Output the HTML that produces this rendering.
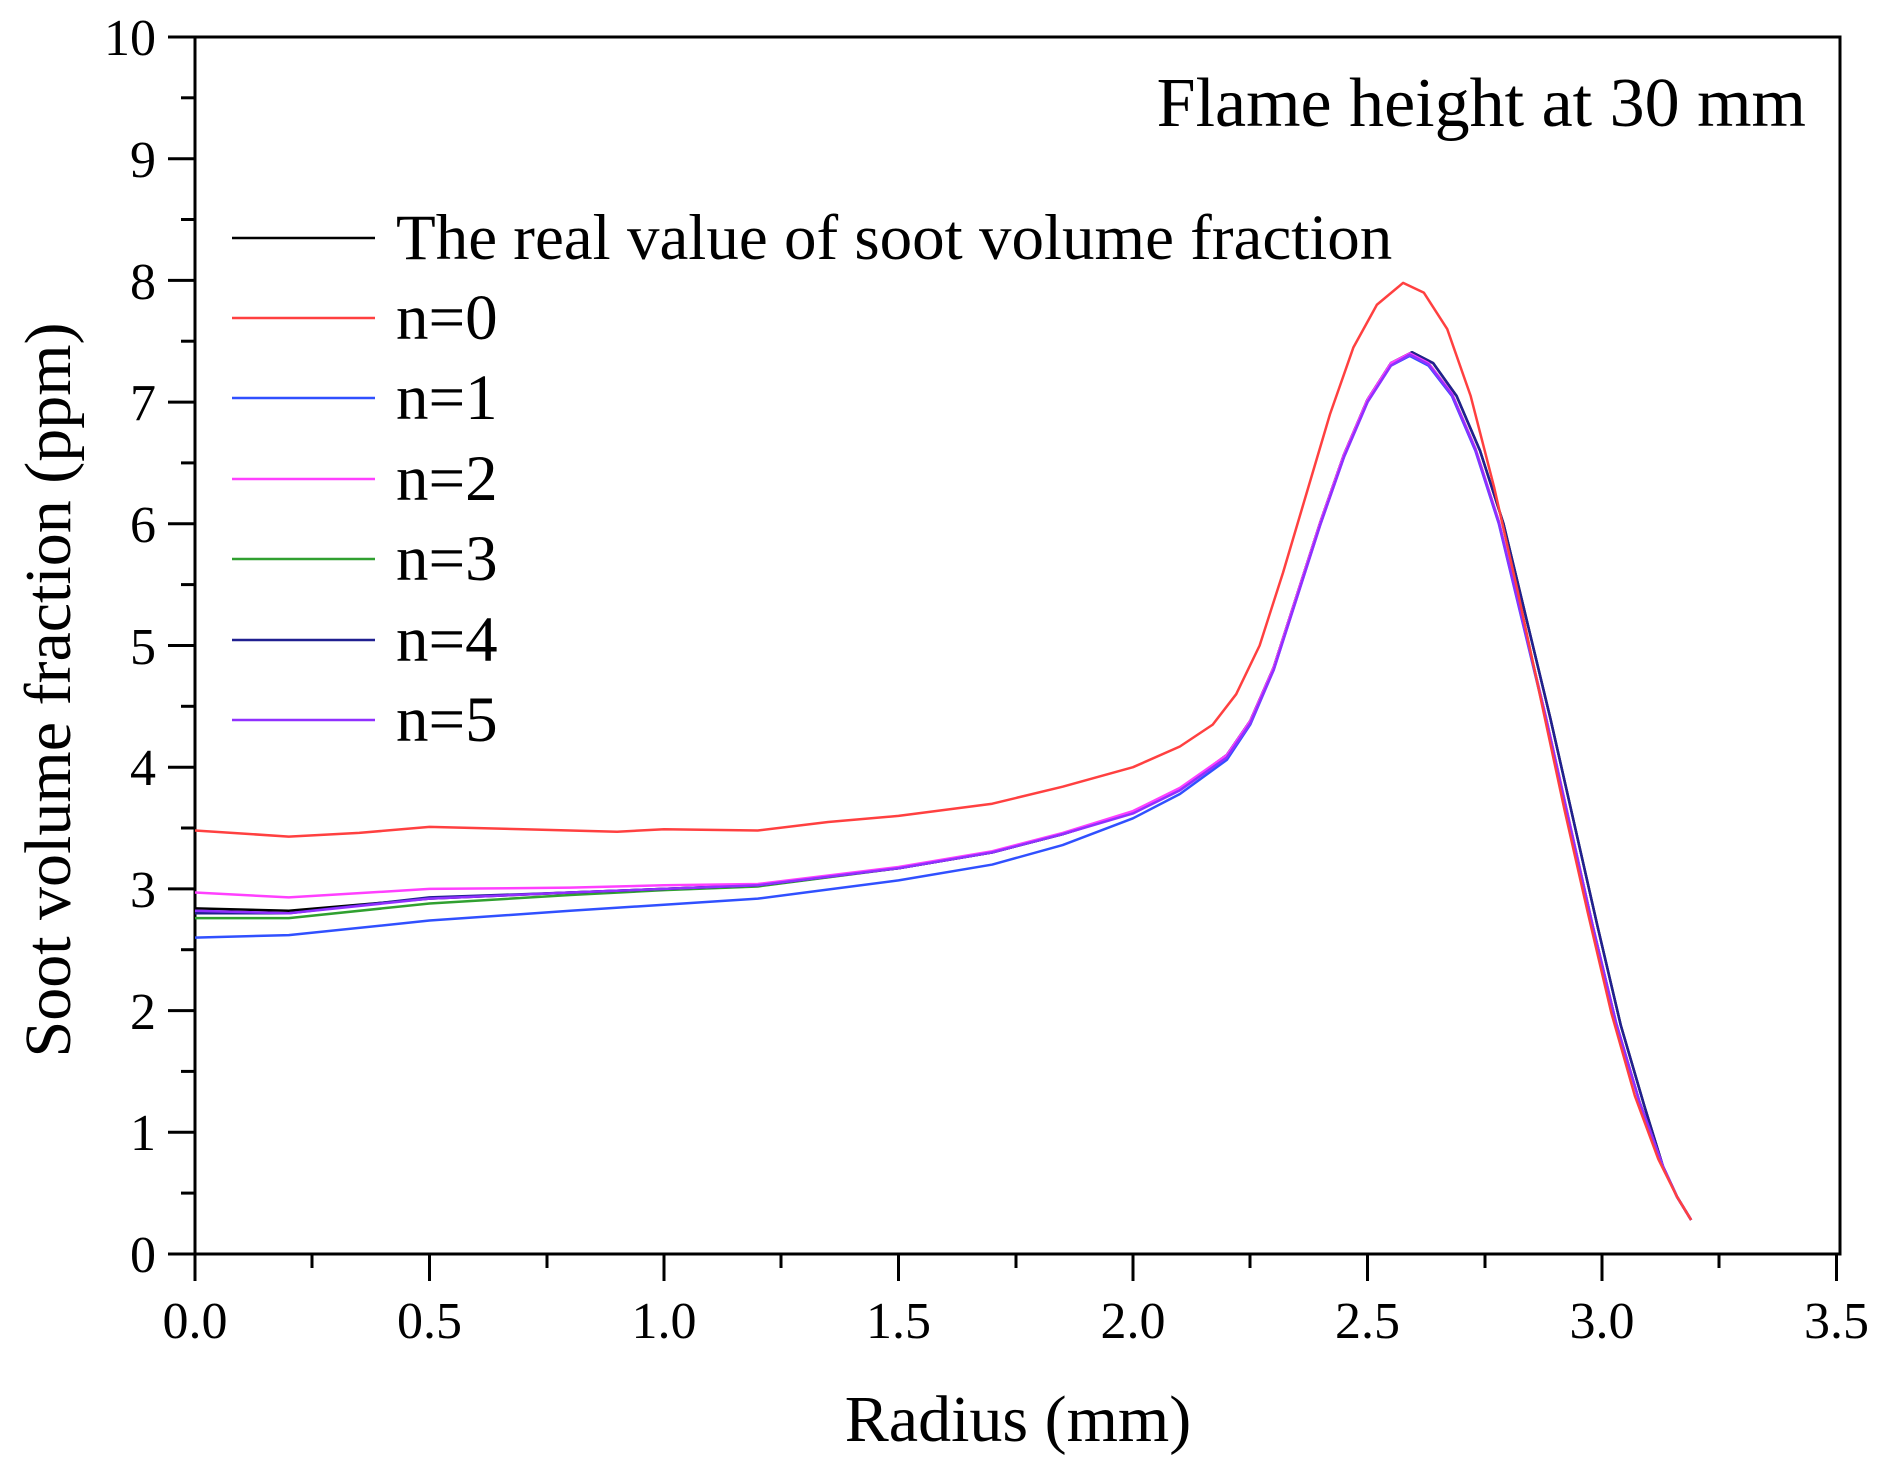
<!DOCTYPE html>
<html><head><meta charset="utf-8"><style>
html,body{margin:0;padding:0;background:#fff;}
svg{display:block;}
text{font-family:"Liberation Serif",serif;fill:#000;}
</style></head><body>
<svg width="1883" height="1467" viewBox="0 0 1883 1467" xmlns="http://www.w3.org/2000/svg">
<rect width="1883" height="1467" fill="#fff"/>
<rect x="195" y="37" width="1645" height="1217" fill="none" stroke="#000" stroke-width="3"/>
<g stroke="#000" stroke-width="3">
<line x1="195" y1="1254" x2="195" y2="1281"/><line x1="429.5" y1="1254" x2="429.5" y2="1281"/>
<line x1="664" y1="1254" x2="664" y2="1281"/><line x1="898.5" y1="1254" x2="898.5" y2="1281"/>
<line x1="1133" y1="1254" x2="1133" y2="1281"/><line x1="1367.5" y1="1254" x2="1367.5" y2="1281"/>
<line x1="1602" y1="1254" x2="1602" y2="1281"/><line x1="1836.5" y1="1254" x2="1836.5" y2="1281"/>
<line x1="312" y1="1254" x2="312" y2="1268"/><line x1="547" y1="1254" x2="547" y2="1268"/>
<line x1="781" y1="1254" x2="781" y2="1268"/><line x1="1016" y1="1254" x2="1016" y2="1268"/>
<line x1="1250" y1="1254" x2="1250" y2="1268"/><line x1="1485" y1="1254" x2="1485" y2="1268"/>
<line x1="1719" y1="1254" x2="1719" y2="1268"/>
</g>
<g stroke="#000" stroke-width="3">
<line x1="168" y1="1254" x2="195" y2="1254"/><line x1="168" y1="1132.3" x2="195" y2="1132.3"/>
<line x1="168" y1="1010.6" x2="195" y2="1010.6"/><line x1="168" y1="888.9" x2="195" y2="888.9"/>
<line x1="168" y1="767.2" x2="195" y2="767.2"/><line x1="168" y1="645.5" x2="195" y2="645.5"/>
<line x1="168" y1="523.8" x2="195" y2="523.8"/><line x1="168" y1="402.1" x2="195" y2="402.1"/>
<line x1="168" y1="280.4" x2="195" y2="280.4"/><line x1="168" y1="158.7" x2="195" y2="158.7"/>
<line x1="168" y1="37" x2="195" y2="37"/>
<line x1="181" y1="1193.1" x2="195" y2="1193.1"/><line x1="181" y1="1071.4" x2="195" y2="1071.4"/>
<line x1="181" y1="949.7" x2="195" y2="949.7"/><line x1="181" y1="828" x2="195" y2="828"/>
<line x1="181" y1="706.3" x2="195" y2="706.3"/><line x1="181" y1="584.6" x2="195" y2="584.6"/>
<line x1="181" y1="462.9" x2="195" y2="462.9"/><line x1="181" y1="341.2" x2="195" y2="341.2"/>
<line x1="181" y1="219.5" x2="195" y2="219.5"/><line x1="181" y1="97.8" x2="195" y2="97.8"/>
</g>
<g font-size="52" text-anchor="end">
<text x="156" y="1272">0</text><text x="156" y="1150">1</text><text x="156" y="1029">2</text>
<text x="156" y="907">3</text><text x="156" y="785">4</text><text x="156" y="664">5</text>
<text x="156" y="542">6</text><text x="156" y="420">7</text><text x="156" y="299">8</text>
<text x="156" y="177">9</text><text x="156" y="55">10</text>
</g>
<g font-size="52" text-anchor="middle">
<text x="195" y="1338">0.0</text><text x="429.5" y="1338">0.5</text><text x="664" y="1338">1.0</text>
<text x="898.5" y="1338">1.5</text><text x="1133" y="1338">2.0</text><text x="1367.5" y="1338">2.5</text>
<text x="1602" y="1338">3.0</text><text x="1836.5" y="1338">3.5</text>
</g>
<text x="1018" y="1441" font-size="66" text-anchor="middle">Radius (mm)</text>
<text transform="translate(70,690) rotate(-90)" font-size="66" text-anchor="middle">Soot volume fraction (ppm)</text>
<text x="1806" y="126" font-size="70" text-anchor="end">Flame height at 30 mm</text>
<g stroke-width="2.5">
<line x1="232" y1="238" x2="375" y2="238" stroke="#000"/>
<line x1="232" y1="318" x2="375" y2="318" stroke="#ff4040"/>
<line x1="232" y1="398" x2="375" y2="398" stroke="#3050ff"/>
<line x1="232" y1="479" x2="375" y2="479" stroke="#ff40ff"/>
<line x1="232" y1="559" x2="375" y2="559" stroke="#30a030"/>
<line x1="232" y1="640" x2="375" y2="640" stroke="#202090"/>
<line x1="232" y1="720" x2="375" y2="720" stroke="#9030ff"/>
</g>
<g font-size="65">
<text x="396" y="259">The real value of soot volume fraction</text>
<text x="396" y="339">n=0</text><text x="396" y="419">n=1</text><text x="396" y="500">n=2</text>
<text x="396" y="580">n=3</text><text x="396" y="661">n=4</text><text x="396" y="741">n=5</text>
</g>
<g transform="translate(195,1254) scale(469,-121.7)" fill="none" stroke-width="2.5" stroke-linejoin="round">
<polyline vector-effect="non-scaling-stroke" stroke="#3050ff" points="0,2.6 0.2,2.62 0.5,2.74 0.8,2.82 1.0,2.87 1.2,2.92 1.5,3.07 1.7,3.2 1.85,3.36 2.0,3.58 2.1,3.78 2.2,4.06 2.25,4.35 2.3,4.8 2.35,5.4 2.4,6.0 2.45,6.55 2.5,7.0 2.55,7.3 2.59,7.38 2.63,7.3 2.68,7.05 2.73,6.6 2.78,6.0 2.83,5.2 2.88,4.4 2.93,3.55 2.98,2.7 3.03,1.9 3.08,1.25 3.13,0.72 3.16,0.47 3.19,0.28"/>
<polyline vector-effect="non-scaling-stroke" stroke="#30a030" points="0,2.76 0.2,2.76 0.5,2.88 0.8,2.95 1.0,2.99 1.2,3.02 1.5,3.17 1.7,3.3 1.85,3.45 2.0,3.63 2.1,3.82 2.2,4.1 2.25,4.38 2.3,4.82 2.35,5.42 2.4,6.02 2.45,6.57 2.5,7.02 2.55,7.32 2.59,7.4 2.63,7.32 2.68,7.07 2.73,6.62 2.78,6.02 2.83,5.22 2.88,4.42 2.93,3.56 2.98,2.7 3.03,1.9 3.08,1.25 3.13,0.72 3.16,0.47 3.19,0.28"/>
<polyline vector-effect="non-scaling-stroke" stroke="#000" points="0,2.84 0.2,2.82 0.5,2.92 0.8,2.97 1.0,3.0 1.2,3.03 1.5,3.17 1.7,3.3 1.85,3.45 2.0,3.63 2.1,3.82 2.2,4.1 2.25,4.38 2.3,4.82 2.35,5.42 2.4,6.02 2.45,6.57 2.5,7.02 2.55,7.32 2.595,7.41 2.64,7.32 2.69,7.05 2.74,6.6 2.79,6.0 2.84,5.2 2.89,4.4 2.94,3.55 2.99,2.7 3.04,1.88 3.09,1.22 3.13,0.72 3.16,0.47 3.19,0.28"/>
<polyline vector-effect="non-scaling-stroke" stroke="#202090" points="0,2.8 0.2,2.8 0.5,2.93 0.8,2.97 1.0,3.0 1.2,3.03 1.5,3.17 1.7,3.3 1.85,3.45 2.0,3.63 2.1,3.82 2.2,4.1 2.25,4.38 2.3,4.82 2.35,5.42 2.4,6.02 2.45,6.57 2.5,7.02 2.55,7.32 2.595,7.41 2.64,7.32 2.69,7.05 2.74,6.6 2.79,6.0 2.84,5.2 2.89,4.4 2.94,3.55 2.99,2.7 3.04,1.88 3.09,1.22 3.13,0.72 3.16,0.47 3.19,0.28"/>
<polyline vector-effect="non-scaling-stroke" stroke="#ff40ff" points="0,2.97 0.2,2.93 0.5,3.0 0.8,3.01 1.0,3.03 1.2,3.04 1.5,3.18 1.7,3.31 1.85,3.46 2.0,3.64 2.1,3.83 2.2,4.1 2.25,4.38 2.3,4.82 2.35,5.42 2.4,6.02 2.45,6.57 2.5,7.02 2.55,7.32 2.59,7.4 2.63,7.32 2.68,7.07 2.73,6.62 2.78,6.02 2.83,5.22 2.88,4.42 2.93,3.56 2.98,2.7 3.03,1.9 3.08,1.25 3.13,0.72 3.16,0.47 3.19,0.28"/>
<polyline vector-effect="non-scaling-stroke" stroke="#9030ff" points="0,2.82 0.2,2.8 0.5,2.92 0.8,2.97 1.0,3.0 1.2,3.03 1.5,3.17 1.7,3.3 1.85,3.45 2.0,3.62 2.1,3.81 2.2,4.08 2.25,4.36 2.3,4.8 2.35,5.4 2.4,6.0 2.45,6.55 2.5,7.0 2.55,7.3 2.59,7.39 2.63,7.31 2.68,7.06 2.73,6.61 2.78,6.01 2.83,5.21 2.88,4.41 2.93,3.55 2.98,2.7 3.03,1.9 3.08,1.25 3.13,0.72 3.16,0.47 3.19,0.28"/>
<polyline vector-effect="non-scaling-stroke" stroke="#ff4040" points="0,3.48 0.2,3.43 0.35,3.46 0.5,3.51 0.7,3.49 0.9,3.47 1.0,3.49 1.2,3.48 1.35,3.55 1.5,3.6 1.7,3.7 1.85,3.84 2.0,4.0 2.1,4.17 2.17,4.35 2.22,4.6 2.27,5.0 2.32,5.6 2.37,6.25 2.42,6.9 2.47,7.45 2.52,7.8 2.576,7.98 2.62,7.9 2.67,7.6 2.72,7.05 2.77,6.3 2.82,5.45 2.87,4.55 2.92,3.65 2.97,2.8 3.02,1.98 3.07,1.3 3.12,0.78 3.16,0.47 3.19,0.28"/>
</g>
</svg>
</body></html>
